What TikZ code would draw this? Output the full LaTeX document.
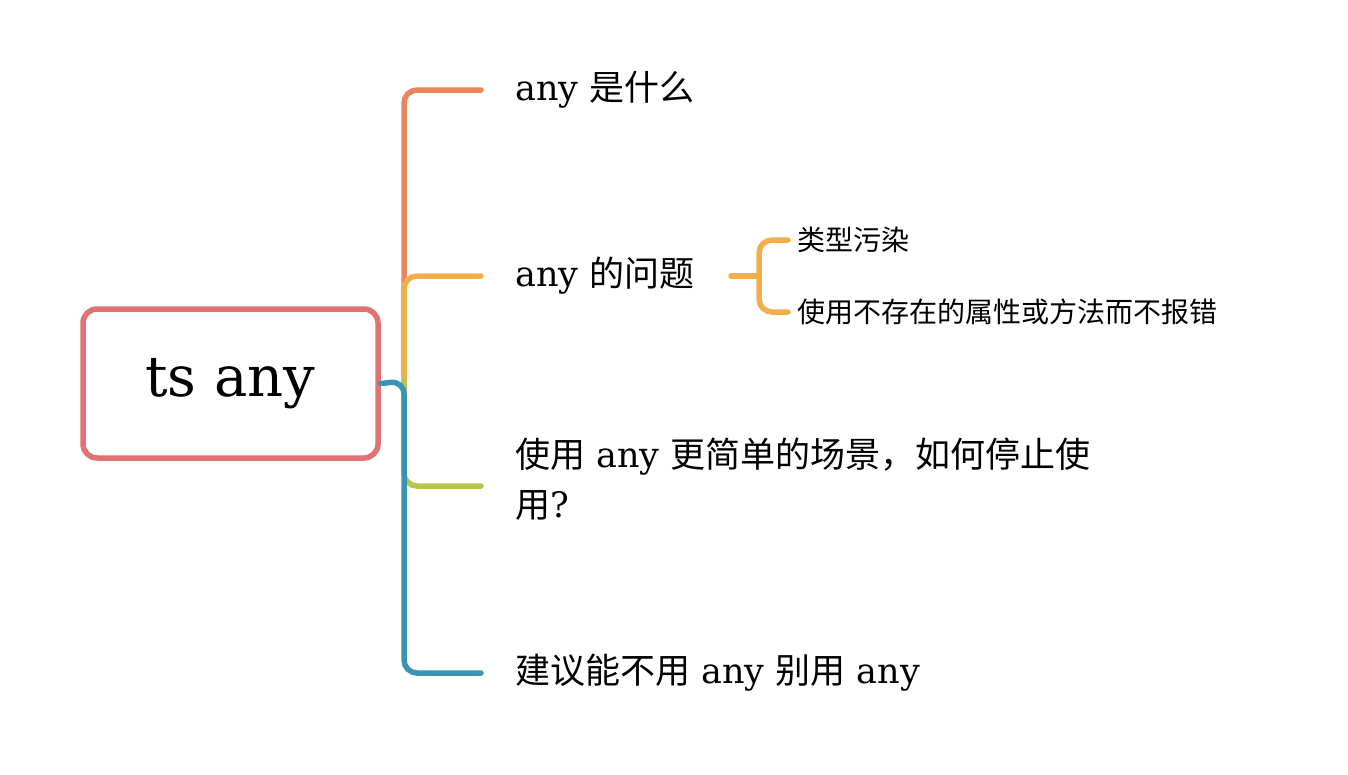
\documentclass[tikz,border=0pt]{standalone}
\usepackage{fontspec}
\setmainfont{DejaVu Serif}
\newfontfamily\cjk{Noto Sans CJK SC}
\definecolor{cRoot}{HTML}{E07272}
\definecolor{cA}{HTML}{E8875A}
\definecolor{cB}{HTML}{F2AE4A}
\definecolor{cC}{HTML}{B8C44A}
\definecolor{cD}{HTML}{3A93B4}
\tikzset{br/.style={line width=5.5pt,rounded corners=13pt,line cap=round},
 lab/.style={anchor=west,inner sep=0pt,font=\fontsize{35}{50}\selectfont},
 sub/.style={anchor=west,inner sep=0pt,font=\cjk\fontsize{28}{34}\selectfont}}
\begin{document}
\begin{tikzpicture}[x=1pt,y=-1pt]
\useasboundingbox (0,0) rectangle (1348,774);
\node[draw=cRoot,line width=5.5pt,rounded corners=14pt,minimum width=295pt,minimum height=149pt,font=\fontsize{56}{64}\selectfont] (root) at (230.5,383.5) {ts any};
\coordinate (t) at (404,381);
\node[lab] (a) at (515,90) {any {\cjk 是什么}};
\node[lab] (b) at (515,276) {any {\cjk 的问题}};
\node[lab,align=left,anchor=north west] (c) at (515,438) {{\cjk 使用} any {\cjk 更简单的场景，如何停止使}\\{\cjk 用}?};
\node[lab] (d) at (515,673) {{\cjk 建议能不用} any {\cjk 别用} any};
\node[sub] (b1) at (797,240) {类型污染};
\node[sub] (b2) at (797,312) {使用不存在的属性或方法而不报错};
\draw[br,cA] (t) -- (404,90) -- (481,90);
\draw[br,cB] (t) -- (404,276) -- (481,276);
\draw[br,cC] (t) -- (404,486) -- (481,486);
\draw[br,cD] (root.east) -- (t) -- (404,673) -- (481,673);
\draw[br,cB] (731,276) -- (758,276);
\draw[br,cB] (788,240) -- (759,240) -- (759,312) -- (788,312);
\end{tikzpicture}
\end{document}
